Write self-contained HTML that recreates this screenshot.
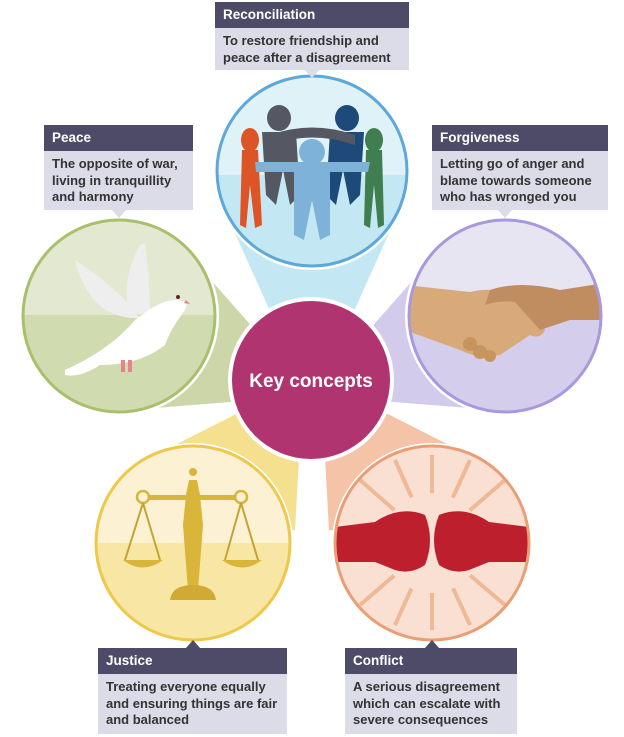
<!DOCTYPE html>
<html><head><meta charset="utf-8"><style>
html,body{margin:0;padding:0;background:#fff;}
body{width:624px;height:737px;position:relative;overflow:hidden;font-family:"Liberation Sans",sans-serif;}
svg{position:absolute;left:0;top:0;}
.lb{position:absolute;}
.h{background:#4e4b69;color:#fff;font-weight:bold;font-size:13.5px;height:26px;line-height:26px;padding-left:8px;}
.b{background:#dcdbe8;color:#333;font-weight:bold;font-size:13px;line-height:16.5px;padding:5px 8px 6px 8px;}
</style></head><body>
<svg width="624" height="737" viewBox="0 0 624 737">
<defs>
<clipPath id="cR"><circle cx="312" cy="171" r="94"/></clipPath>
<clipPath id="cP"><circle cx="119" cy="316" r="96"/></clipPath>
<clipPath id="cF"><circle cx="505" cy="316" r="96"/></clipPath>
<clipPath id="cJ"><circle cx="193" cy="543" r="96"/></clipPath>
<clipPath id="cC"><circle cx="432" cy="543" r="96"/></clipPath>
</defs>
<!-- connectors -->
<polygon points="220,200 404,200 350,320 274,320" fill="#c4e8f3"/>
<polygon points="180,245 255,330 255,400 130,410" fill="#cdd6a8"/>
<polygon points="444,245 369,330 369,400 494,410" fill="#d2cbeb"/>
<polygon points="175,445 240,412 300,440 295,530 193,543" fill="#f4e08e"/>
<polygon points="449,445 384,412 324,440 329,530 432,543" fill="#f4c3a8"/>
<!-- Reconciliation -->
<circle cx="312" cy="171" r="99" fill="#fff"/>
<g clip-path="url(#cR)">
<rect x="210" y="70" width="210" height="110" fill="#dff2f8"/>
<rect x="210" y="175" width="210" height="100" fill="#c4e8f3"/>
<ellipse cx="279" cy="118" rx="12" ry="13" fill="#555863"/>
<path d="M262,132 L296,132 L300,195 L290,205 L283,170 L276,205 L266,195 Z" fill="#555863"/>
<ellipse cx="347" cy="118" rx="12" ry="13" fill="#1d4a78"/>
<path d="M330,132 L364,132 L360,195 L350,205 L343,170 L336,205 L326,195 Z" fill="#1d4a78"/>
<path d="M270,135 Q312,120 355,135 L355,145 Q312,130 270,145 Z" fill="#555863"/>
<ellipse cx="250" cy="140" rx="9" ry="12" fill="#dd5527"/>
<path d="M242,150 L258,150 L262,225 L255,228 L250,185 L246,228 L240,225 Z" fill="#dd5527"/>
<ellipse cx="374" cy="140" rx="9" ry="12" fill="#3f7f4f"/>
<path d="M366,150 L382,150 L384,225 L378,228 L374,185 L370,228 L364,225 Z" fill="#3f7f4f"/>
<circle cx="312" cy="152" r="13" fill="#7fb2d8"/>
<path d="M255,162 L370,162 L368,172 L330,172 L330,235 L320,240 L312,200 L304,240 L294,235 L294,172 L256,172 Z" fill="#7fb2d8"/>
</g>
<circle cx="312" cy="171" r="95" fill="none" stroke="#5da7d9" stroke-width="3"/>
<!-- Peace -->
<circle cx="119" cy="316" r="100" fill="#fff"/>
<g clip-path="url(#cP)">
<rect x="20" y="215" width="200" height="100" fill="#e3e8d0"/>
<rect x="20" y="315" width="200" height="110" fill="#d1dbb0"/>
<path d="M75,260 Q90,320 140,318 Q120,290 78,262 Z" fill="#eeeeee"/>
<path d="M140,245 Q120,280 130,315 L150,312 Q150,280 145,243 Z" fill="#eeeeee"/>
<path d="M65,370 Q110,350 135,320 Q160,300 175,300 Q190,300 185,310 Q170,330 165,345 Q140,365 100,365 Q80,378 65,375 Z" fill="#fff"/>
<circle cx="178" cy="297" r="2" fill="#5a2d1a"/>
<path d="M186,300 L190,304 L184,303 Z" fill="#e6848a"/>
<rect x="121" y="360" width="4" height="12" fill="#e6848a"/>
<rect x="128" y="360" width="4" height="12" fill="#e6848a"/>
</g>
<circle cx="119" cy="316" r="96" fill="none" stroke="#a9bf6c" stroke-width="3"/>
<!-- Forgiveness -->
<circle cx="505" cy="316" r="100" fill="#fff"/>
<g clip-path="url(#cF)">
<rect x="405" y="215" width="200" height="100" fill="#e8e5f3"/>
<rect x="405" y="315" width="200" height="110" fill="#d4cdec"/>
<path d="M405,285 L470,292 Q500,285 520,300 L545,330 Q540,340 530,335 L500,355 Q480,360 460,350 L405,330 Z" fill="#d8aa79"/>
<path d="M605,283 L560,290 Q520,280 490,290 L485,305 Q500,300 515,302 L540,330 L570,320 L605,320 Z" fill="#bf8d5f"/>
<circle cx="470" cy="344" r="7" fill="#c9955f"/><circle cx="480" cy="352" r="7" fill="#c9955f"/><circle cx="490" cy="356" r="6" fill="#c9955f"/>
</g>
<circle cx="505" cy="316" r="96" fill="none" stroke="#a998dd" stroke-width="3"/>
<!-- Justice -->
<circle cx="193" cy="543" r="100" fill="#fff"/>
<g clip-path="url(#cJ)">
<rect x="95" y="445" width="200" height="100" fill="#fcf2d3"/>
<rect x="95" y="543" width="200" height="100" fill="#f8e6a4"/>
<rect x="145" y="495" width="95" height="5" fill="#d9b53a"/>
<circle cx="143" cy="497" r="6" fill="#fcf2d3" stroke="#d9b53a" stroke-width="2.5"/>
<circle cx="241" cy="497" r="6" fill="#fcf2d3" stroke="#d9b53a" stroke-width="2.5"/>
<path d="M143,503 L125,560 M143,503 L160,560 M241,503 L225,560 M241,503 L258,560" stroke="#c7a232" stroke-width="2"/>
<path d="M123,560 L163,560 Q143,575 123,560 Z M222,560 L262,560 Q242,575 222,560 Z" fill="#d9b53a"/>
<circle cx="193" cy="472" r="4" fill="#d9b53a"/>
<path d="M189,480 L197,480 L200,495 L203,525 L198,590 L188,590 L183,525 L186,495 Z" fill="#d9b53a"/>
<path d="M170,600 Q172,585 193,585 Q214,585 216,600 Z" fill="#d0aa33"/>
</g>
<circle cx="193" cy="543" r="97" fill="none" stroke="#eec84a" stroke-width="3"/>
<!-- Conflict -->
<circle cx="432" cy="543" r="100" fill="#fff"/>
<g clip-path="url(#cC)">
<rect x="330" y="440" width="210" height="210" fill="#f9e0d2"/>
<g stroke="#f0b895" stroke-width="4">
<line x1="432" y1="543" x2="432" y2="455"/><line x1="432" y1="543" x2="470" y2="460"/><line x1="432" y1="543" x2="395" y2="460"/>
<line x1="432" y1="543" x2="505" y2="480"/><line x1="432" y1="543" x2="360" y2="480"/><line x1="432" y1="543" x2="432" y2="630"/>
<line x1="432" y1="543" x2="470" y2="625"/><line x1="432" y1="543" x2="395" y2="625"/><line x1="432" y1="543" x2="505" y2="605"/><line x1="432" y1="543" x2="360" y2="605"/>
</g>
<circle cx="432" cy="543" r="50" fill="#f9e0d2"/>
<path d="M335,527 L375,522 Q400,505 425,515 Q435,540 425,565 Q410,575 395,570 L375,562 L335,562 Z" fill="#bd1f2d"/>
<path d="M529,527 L489,522 Q464,505 439,515 Q429,540 439,565 Q454,575 469,570 L489,562 L529,562 Z" fill="#bd1f2d"/>
</g>
<circle cx="432" cy="543" r="97" fill="none" stroke="#eb9d76" stroke-width="3"/>
<!-- center -->
<circle cx="311" cy="380" r="83" fill="#fff"/>
<circle cx="311" cy="380" r="79" fill="#b0346f"/>
<text x="311" y="387" text-anchor="middle" fill="#fff" font-family="Liberation Sans" font-weight="bold" font-size="19">Key concepts</text>
<!-- pointers -->
<polygon points="305,70 319,70 312,78" fill="#dcdbe8"/>
<polygon points="112,210 126,210 119,218" fill="#dcdbe8"/>
<polygon points="498,210 512,210 505,218" fill="#dcdbe8"/>
<polygon points="186,648 200,648 193,640" fill="#4e4b69"/>
<polygon points="425,648 439,648 432,640" fill="#4e4b69"/>
</svg>
<div class="lb" style="left:215px;top:2px;width:194px"><div class="h">Reconciliation</div><div class="b" style="height:31px">To restore friendship and peace after a disagreement</div></div>
<div class="lb" style="left:44px;top:125px;width:149px"><div class="h">Peace</div><div class="b" style="height:48px">The opposite of war, living in tranquillity and harmony</div></div>
<div class="lb" style="left:432px;top:125px;width:176px"><div class="h">Forgiveness</div><div class="b" style="height:48px">Letting go of anger and blame towards someone who has wronged you</div></div>
<div class="lb" style="left:98px;top:648px;width:189px"><div class="h">Justice</div><div class="b" style="height:49px">Treating everyone equally and ensuring things are fair and balanced</div></div>
<div class="lb" style="left:345px;top:648px;width:172px"><div class="h">Conflict</div><div class="b" style="height:49px">A serious disagreement which can escalate with severe consequences</div></div>
</body></html>
